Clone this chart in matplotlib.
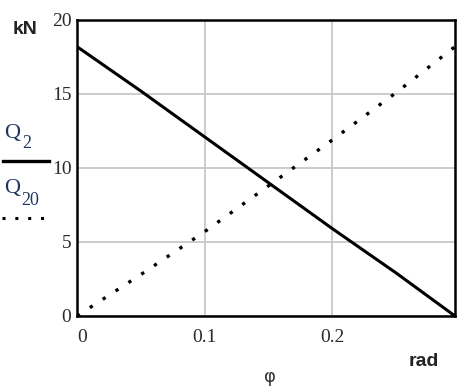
import numpy as np
import matplotlib.pyplot as plt
from matplotlib.lines import Line2D

# values
phi = [0.0, 0.05, 0.10, 0.15, 0.20, 0.25, 0.296]
q2 = [18.2, 15.2, 12.1, 9.0, 5.9, 2.9, 0.0]
q20 = [0.0, 2.8, 5.7, 8.8, 11.9, 15.1, 18.2]
xticks = [0, 0.1, 0.2]
yticks = [0, 5, 10, 15, 20]

W, H = 474, 389


def px(x, y):
    # pixel position -> figure fraction
    return x / W, 1 - y / H


fig = plt.figure(figsize=(4.74, 3.89), dpi=100)
ax = fig.add_axes([77 / W, 1 - 316 / H, (455 - 77) / W, (316 - 20) / H])

ax.plot(phi, q2, color="black", lw=2.2, solid_capstyle="butt")
ax.plot(phi, q20, color="black", lw=2.4, linestyle=(0, (1.0, 3.6)))

ax.set_xlim(0, 0.296)
ax.set_ylim(0, 20)
ax.set_xticks(xticks)
ax.set_yticks(yticks)
ax.set_xticklabels(["0", "0.1", "0.2"])
ax.grid(True, color="#c8c8c8", lw=1.3)
ax.set_axisbelow(True)
ax.tick_params(length=0, labelsize=14, labelcolor="#2a2a2a")
ax.tick_params(axis="x", pad=9)
ax.tick_params(axis="y", pad=4)
for lab in ax.get_xticklabels() + ax.get_yticklabels():
    lab.set_family("Liberation Serif")
ax.get_xticklabels()[0].set_horizontalalignment("left")
for s in ax.spines.values():
    s.set_color("black")
    s.set_linewidth(1.8)

# labels in Mathcad style
fig.text(*px(25, 30), "kN", fontsize=14, fontweight="bold",
         ha="center", va="center", family="Liberation Sans", color="#222222")
fig.text(*px(424, 361), "rad", fontsize=14, fontweight="bold",
         ha="center", va="center", family="Liberation Sans", color="#222222")
fig.text(*px(270, 377), "φ", fontsize=13,
         ha="center", va="center", family="DejaVu Sans", color="#333333")

# legend-like labels on the left
navy = "#1f3560"
fig.text(*px(4, 138), "Q", fontsize=16, ha="left", va="baseline",
         family="Liberation Serif", color=navy)
fig.text(*px(22, 148), "2", fontsize=13, ha="left", va="baseline",
         family="Liberation Serif", color=navy)
fig.text(*px(4, 193), "Q", fontsize=16, ha="left", va="baseline",
         family="Liberation Serif", color=navy)
fig.text(*px(21, 205), "20", fontsize=13, ha="left", va="baseline",
         family="Liberation Serif", color=navy)
fig.add_artist(Line2D([3 / W, 49 / W], [1 - 161 / H, 1 - 161 / H],
                      color="black", lw=2.4))
fig.add_artist(Line2D([2 / W, 48 / W], [1 - 218 / H, 1 - 218 / H],
                      color="black", lw=2.2, linestyle=(0, (1.0, 3.2))))

fig.savefig("out.png", dpi=100)
